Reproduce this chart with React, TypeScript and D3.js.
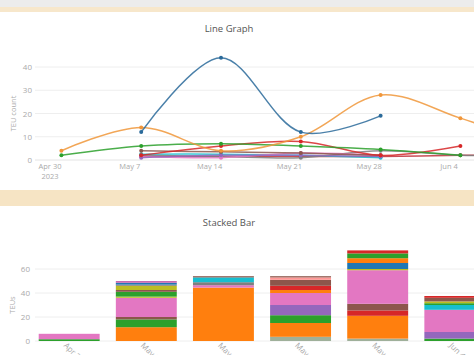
import React from "react";
import * as d3 from "d3";

const lineDates = ["2023-05-01", "2023-05-08", "2023-05-15", "2023-05-22", "2023-05-29", "2023-06-05", "2023-06-12"];
const lineSeriesNames = ["blue", "orange", "green", "red", "brown", "purple", "pink", "gray", "teal", "crimson"];
const lineColors = ["#2a6a9a", "#f0963a", "#2ca02c", "#d62728", "#8c564b", "#9467bd", "#e377c2", "#7f7f7f", "#17becf", "#c0303a"];
const blueVals = [null, 12, 44, 12, 19, null, null];
const orangeVals = [4, 14, 4, 10, 28, 18, 6];
const greenVals = [2, 6, 7, 6, 4.5, 2, null];
const redVals = [null, 2, 6, 8, 2, 6, null];
const brownVals = [null, 4, 3.5, 3, 2, null, null];
const purpleVals = [null, 1, 2, 2, 1.5, null, null];
const pinkVals = [null, 1.5, 1, 3, 2, null, null];
const grayVals = [null, 2, 1.5, 1, 4, 2, 2];
const tealVals = [null, 2.5, 2.5, 2, 1, null, null];
const crimsonVals = [null, 1.5, 1.5, 1.5, 1.5, 2, 2];
const lineValues = [blueVals, orangeVals, greenVals, redVals, brownVals, purpleVals, pinkVals, grayVals, tealVals, crimsonVals];
const lineYTicks = [0, 10, 20, 30, 40];
const lineXTicks = ["2023-04-30", "2023-05-07", "2023-05-14", "2023-05-21", "2023-05-28", "2023-06-04"];
const lineXTickLabels = ["Apr 30", "May 7", "May 14", "May 21", "May 28", "Jun 4"];

const barCategories = ["Apr 30", "May 7", "May 14", "May 21", "May 28", "Jun 4"];
const barKeys = ["k0", "k1", "k2", "k3", "k4", "k5", "k6", "k7", "k8", "k9", "k10", "k11", "k12", "k13", "k14", "k15", "k16", "k17", "k18", "k19", "k20", "k21", "k22", "k23"];
const barColors = ["#9fb09a", "#2ca02c", "#ff7f0e", "#2ca02c", "#d62728", "#8c564b", "#9467bd", "#e377c2", "#7f7f7f", "#bcbd22", "#17becf", "#2ca02c", "#ff7f0e", "#d62728", "#8c564b", "#bcbd22", "#ff9896", "#7f7f7f", "#1f77b4", "#ff7f0e", "#2ca02c", "#8c564b", "#d62728", "#c76bb0"];
const barValues = [
  [0, 0, 0, 3.5, 2, 0],
  [1.5, 0, 0, 0, 0, 2],
  [0, 11.5, 44.5, 11.5, 19, 0],
  [0, 6.5, 0, 6.5, 0, 0],
  [0, 0, 0, 0, 4.5, 0],
  [0, 2, 0, 0, 5.5, 0],
  [0, 0, 0, 8.5, 0, 5.5],
  [4.5, 16, 2, 10, 28, 18.5],
  [0, 0, 2.5, 0, 0, 0],
  [0, 1, 0, 0, 1, 0],
  [0, 0, 4, 0, 0, 4],
  [0, 4, 0, 0, 0, 1.5],
  [0, 0, 0, 2.5, 0, 0],
  [0, 0, 0, 3.5, 0, 0],
  [0, 1.5, 0, 5, 0, 0],
  [0, 3.5, 0, 0, 0, 1.5],
  [0, 0, 0, 2, 0, 0],
  [0, 1, 0, 0, 0, 0],
  [0, 1.5, 0, 0, 5, 0],
  [0, 0, 0, 0, 4, 0],
  [0, 0, 0, 0, 4, 0],
  [0, 0, 1, 1, 0, 3],
  [0, 0, 0, 0, 2.5, 1.5],
  [0, 1.5, 0, 0, 0, 0],
];
const barYTicks = [0, 20, 40, 60];

const W = 474;
const H = 355;
const FONT = "'Open Sans', sans-serif";

export default function App() {
  const parse = d3.utcParse("%Y-%m-%d");
  const x = d3
    .scaleUtc()
    .domain([parse("2023-04-30")!, parse("2023-06-04")!])
    .range([50, 449]);
  const y = d3.scaleLinear().domain([0, 40]).range([160, 67]);
  const line = d3
    .line<{ d: Date; v: number }>()
    .x((p) => x(p.d))
    .y((p) => y(p.v))
    .curve(d3.curveCatmullRom.alpha(0.5));

  const dates = lineDates.map((s) => parse(s)!);
  const lineSeries = lineValues.map((vals, i) => ({
    name: lineSeriesNames[i],
    color: lineColors[i],
    pts: vals
      .map((v, j) => (v == null ? null : { d: dates[j], v: v as number }))
      .filter((p): p is { d: Date; v: number } => p !== null),
  }));

  // bar chart
  const xb = d3.scaleBand().domain(barCategories).range([31, 493]).paddingInner(0.21).paddingOuter(0.1);
  const yb = d3.scaleLinear().domain([0, 60]).range([341, 269]);
  const rows = barCategories.map((c, ci) => {
    const r: Record<string, any> = { cat: c };
    barKeys.forEach((k, ki) => (r[k] = barValues[ki][ci]));
    return r;
  });
  const stacked = d3.stack<Record<string, any>>().keys(barKeys)(rows);

  return (
    <svg width={W} height={H} style={{ position: "absolute", left: 0, top: 0, background: "#fff" }} fontFamily={FONT}>
      <defs>
        <clipPath id="lineclip">
          <rect x={33} y={40} width={W - 33} height={130} />
        </clipPath>
      </defs>
      <rect x={0} y={0} width={W} height={7} fill="#ececec" />
      <rect x={0} y={7} width={W} height={5} fill="#f7e7cb" />
      <rect x={0} y={190} width={W} height={16} fill="#f6e4c4" />

      {/* Line chart */}
      <text x={229} y={32} textAnchor="middle" fontSize={9.5} fill="#555">Line Graph</text>
      {lineYTicks.map((t) => (
        <g key={t}>
          <line x1={35} x2={W} y1={y(t)} y2={y(t)} stroke={t === 0 ? "#e4e4e4" : "#eeeeee"} strokeWidth={1} />
          <text x={32} y={y(t) + 3} textAnchor="end" fontSize={8} fill="#aaa">{t}</text>
        </g>
      ))}
      <text transform={`translate(16,${y(20)}) rotate(-90)`} textAnchor="middle" fontSize={7.5} fill="#aaa">TEU count</text>
      {lineXTicks.map((t, i) => (
        <g key={t}>
          <text x={x(parse(t)!)} y={168.5} textAnchor="middle" fontSize={7.5} fill="#aaa">{lineXTickLabels[i]}</text>
          {i === 0 && (
            <text x={x(parse(t)!)} y={178.5} textAnchor="middle" fontSize={7.5} fill="#aaa">2023</text>
          )}
        </g>
      ))}
      <g clipPath="url(#lineclip)">
        {lineSeries
          .slice()
          .reverse()
          .map((s) => (
            <g key={s.name}>
              <path d={line(s.pts) || ""} fill="none" stroke={s.color} strokeWidth={1.5} strokeOpacity={0.85} />
              {s.pts.map((p, j) => (
                <circle key={j} cx={x(p.d)} cy={y(p.v)} r={2} fill={s.color} />
              ))}
            </g>
          ))}
      </g>

      {/* Stacked bar */}
      <text x={229} y={226} textAnchor="middle" fontSize={9.5} fill="#555">Stacked Bar</text>
      {barYTicks.map((t) => (
        <g key={t}>
          <line x1={35} x2={W} y1={yb(t)} y2={yb(t)} stroke="#eeeeee" strokeWidth={1} />
          <text x={30} y={yb(t) + 3} textAnchor="end" fontSize={8} fill="#aaa">{t}</text>
        </g>
      ))}
      <text transform={`translate(15,${yb(30)}) rotate(-90)`} textAnchor="middle" fontSize={7.5} fill="#aaa">TEUs</text>
      {stacked.map((layer, li) => (
        <g key={layer.key} fill={barColors[li]}>
          {layer.map((seg, ci) =>
            seg[1] - seg[0] > 0 ? (
              <rect
                key={ci}
                x={xb(barCategories[ci])!}
                width={xb.bandwidth()}
                y={yb(seg[1])}
                height={yb(seg[0]) - yb(seg[1])}
              />
            ) : null
          )}
        </g>
      ))}
      {barCategories.map((c) => (
        <text
          key={c}
          transform={`translate(${xb(c)! + xb.bandwidth() / 2 - 6},${346}) rotate(45)`}
          fontSize={8}
          fill="#aaa"
        >
          {c}
        </text>
      ))}
    </svg>
  );
}
